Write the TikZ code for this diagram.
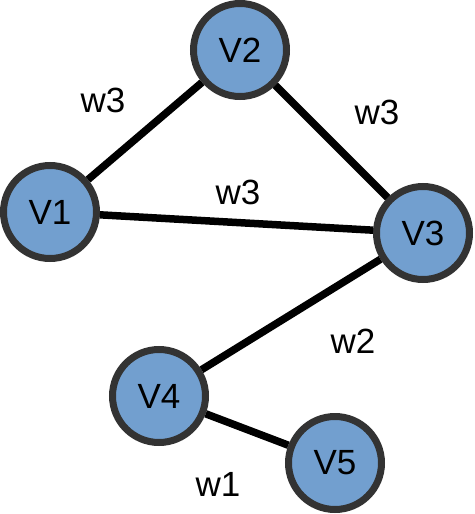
\documentclass[tikz,border=0pt]{standalone}
\usepackage{fontspec}
\setmainfont{Liberation Sans}
\usepackage{tikz}
\definecolor{sky}{HTML}{729FCF}
\definecolor{rim}{HTML}{333333}
\tikzset{vertex/.style={circle,draw=rim,fill=sky,line width=7pt,minimum size=93pt,inner sep=0pt,font=\fontsize{35}{40}\selectfont},edge/.style={line width=7.5pt,black},weight/.style={font=\fontsize{35}{40}\selectfont}}

\begin{document}
\begin{tikzpicture}[x=1pt,y=-1pt]
\useasboundingbox (0,0) rectangle (474,514);
\node[vertex] (v1) at (50,212) {V1};
\node[vertex] (v2) at (240,50) {V2};
\node[vertex] (v3) at (423,233) {V3};
\node[vertex] (v4) at (159,396) {V4};
\node[vertex] (v5) at (335,463) {V5};
\node[weight] (w12) at (103,100) {w3};
\node[weight] (w23) at (377,112) {w3};
\node[weight] (w13) at (238,192) {w3};
\node[weight] (w34) at (353,341) {w2};
\node[weight] (w45) at (218,484) {w1};
\draw[edge] (v1)--(v2);\draw[edge] (v2)--(v3);\draw[edge] (v1)--(v3);
\draw[edge] (v3)--(v4);\draw[edge] (v4)--(v5);
\end{tikzpicture}
\end{document}
